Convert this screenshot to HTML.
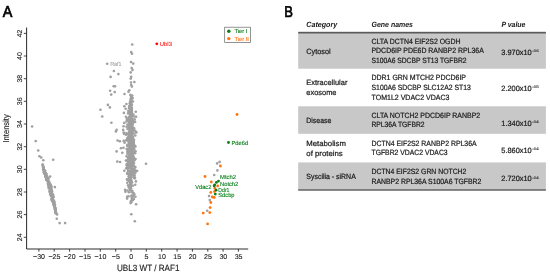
<!DOCTYPE html>
<html><head><meta charset="utf-8"><title>Figure</title>
<style>
html,body{margin:0;padding:0;background:#fff}
svg{display:block;font-family:"Liberation Sans",sans-serif;text-rendering:geometricPrecision}
</style></head><body>
<svg width="550" height="275" viewBox="0 0 550 275">
<defs><filter id="soft" x="0" y="0" width="550" height="275" filterUnits="userSpaceOnUse"><feGaussianBlur stdDeviation="0.32"/></filter></defs>
<rect width="550" height="275" fill="#fff"/>
<g filter="url(#soft)">
<g id="points">
<circle cx="132.2" cy="44.5" r="1.32" fill="#a0a0a0"/>
<circle cx="131.2" cy="52.1" r="1.32" fill="#a0a0a0"/>
<circle cx="132.0" cy="53.8" r="1.32" fill="#a0a0a0"/>
<circle cx="131.0" cy="62.0" r="1.32" fill="#a0a0a0"/>
<circle cx="133.2" cy="63.6" r="1.32" fill="#a0a0a0"/>
<circle cx="107.2" cy="63.8" r="1.32" fill="#a0a0a0"/>
<circle cx="131.7" cy="68.0" r="1.32" fill="#a0a0a0"/>
<circle cx="132.5" cy="69.9" r="1.32" fill="#a0a0a0"/>
<circle cx="130.7" cy="72.4" r="1.32" fill="#a0a0a0"/>
<circle cx="113.9" cy="71.0" r="1.32" fill="#a0a0a0"/>
<circle cx="118.4" cy="74.1" r="1.32" fill="#a0a0a0"/>
<circle cx="110.6" cy="76.9" r="1.32" fill="#a0a0a0"/>
<circle cx="131.2" cy="76.7" r="1.32" fill="#a0a0a0"/>
<circle cx="130.7" cy="78.6" r="1.32" fill="#a0a0a0"/>
<circle cx="134.4" cy="82.0" r="1.32" fill="#a0a0a0"/>
<circle cx="131.0" cy="82.5" r="1.32" fill="#a0a0a0"/>
<circle cx="131.2" cy="85.0" r="1.32" fill="#a0a0a0"/>
<circle cx="131.9" cy="86.6" r="1.32" fill="#a0a0a0"/>
<circle cx="113.7" cy="86.2" r="1.32" fill="#a0a0a0"/>
<circle cx="115.0" cy="86.3" r="1.32" fill="#a0a0a0"/>
<circle cx="110.1" cy="90.8" r="1.32" fill="#a0a0a0"/>
<circle cx="114.7" cy="92.1" r="1.32" fill="#a0a0a0"/>
<circle cx="111.2" cy="94.6" r="1.32" fill="#a0a0a0"/>
<circle cx="124.5" cy="94.0" r="1.32" fill="#a0a0a0"/>
<circle cx="129.3" cy="90.3" r="1.32" fill="#a0a0a0"/>
<circle cx="128.5" cy="91.7" r="1.32" fill="#a0a0a0"/>
<circle cx="130.4" cy="94.9" r="1.32" fill="#a0a0a0"/>
<circle cx="132.2" cy="95.6" r="1.32" fill="#a0a0a0"/>
<circle cx="132.5" cy="98.1" r="1.32" fill="#a0a0a0"/>
<circle cx="107.9" cy="104.9" r="1.32" fill="#a0a0a0"/>
<circle cx="109.9" cy="107.4" r="1.32" fill="#a0a0a0"/>
<circle cx="100.5" cy="109.8" r="1.32" fill="#a0a0a0"/>
<circle cx="102.2" cy="116.5" r="1.32" fill="#a0a0a0"/>
<circle cx="111.4" cy="122.8" r="1.32" fill="#a0a0a0"/>
<circle cx="116.6" cy="129.9" r="1.32" fill="#a0a0a0"/>
<circle cx="115.9" cy="131.4" r="1.32" fill="#a0a0a0"/>
<circle cx="126.4" cy="104.0" r="1.32" fill="#a0a0a0"/>
<circle cx="124.3" cy="106.3" r="1.32" fill="#a0a0a0"/>
<circle cx="125.6" cy="108.8" r="1.32" fill="#a0a0a0"/>
<circle cx="123.9" cy="112.9" r="1.32" fill="#a0a0a0"/>
<circle cx="125.9" cy="116.8" r="1.32" fill="#a0a0a0"/>
<circle cx="135.8" cy="111.7" r="1.32" fill="#a0a0a0"/>
<circle cx="136.1" cy="116.8" r="1.32" fill="#a0a0a0"/>
<circle cx="132.2" cy="97.9" r="1.32" fill="#a0a0a0"/>
<circle cx="132.9" cy="101.5" r="1.32" fill="#a0a0a0"/>
<circle cx="131.5" cy="105.2" r="1.32" fill="#a0a0a0"/>
<circle cx="124.3" cy="122.9" r="1.32" fill="#a0a0a0"/>
<circle cx="123.5" cy="126.3" r="1.32" fill="#a0a0a0"/>
<circle cx="123.2" cy="129.9" r="1.32" fill="#a0a0a0"/>
<circle cx="135.1" cy="121.9" r="1.32" fill="#a0a0a0"/>
<circle cx="135.8" cy="132.5" r="1.32" fill="#a0a0a0"/>
<circle cx="117.6" cy="140.5" r="1.32" fill="#a0a0a0"/>
<circle cx="119.8" cy="141.3" r="1.32" fill="#a0a0a0"/>
<circle cx="123.7" cy="140.9" r="1.32" fill="#a0a0a0"/>
<circle cx="124.6" cy="142.8" r="1.32" fill="#a0a0a0"/>
<circle cx="121.0" cy="148.2" r="1.32" fill="#a0a0a0"/>
<circle cx="123.5" cy="147.7" r="1.32" fill="#a0a0a0"/>
<circle cx="116.6" cy="151.4" r="1.32" fill="#a0a0a0"/>
<circle cx="122.3" cy="152.8" r="1.32" fill="#a0a0a0"/>
<circle cx="117.3" cy="161.6" r="1.32" fill="#a0a0a0"/>
<circle cx="120.1" cy="162.0" r="1.32" fill="#a0a0a0"/>
<circle cx="146.0" cy="163.7" r="1.32" fill="#a0a0a0"/>
<circle cx="123.7" cy="132.6" r="1.32" fill="#a0a0a0"/>
<circle cx="124.1" cy="134.0" r="1.32" fill="#a0a0a0"/>
<circle cx="136.3" cy="132.2" r="1.32" fill="#a0a0a0"/>
<circle cx="127.1" cy="196.7" r="1.32" fill="#a0a0a0"/>
<circle cx="128.5" cy="196.2" r="1.32" fill="#a0a0a0"/>
<circle cx="131.5" cy="195.7" r="1.32" fill="#a0a0a0"/>
<circle cx="135.4" cy="196.7" r="1.32" fill="#a0a0a0"/>
<circle cx="127.1" cy="198.6" r="1.32" fill="#a0a0a0"/>
<circle cx="132.9" cy="200.1" r="1.32" fill="#a0a0a0"/>
<circle cx="131.5" cy="202.0" r="1.32" fill="#a0a0a0"/>
<circle cx="136.1" cy="204.2" r="1.32" fill="#a0a0a0"/>
<circle cx="131.3" cy="214.2" r="1.32" fill="#a0a0a0"/>
<circle cx="134.8" cy="221.2" r="1.32" fill="#a0a0a0"/>
<circle cx="32.1" cy="126.5" r="1.32" fill="#a0a0a0"/>
<circle cx="35.7" cy="141.1" r="1.32" fill="#a0a0a0"/>
<circle cx="38.2" cy="150.5" r="1.32" fill="#a0a0a0"/>
<circle cx="39.4" cy="156.2" r="1.32" fill="#a0a0a0"/>
<circle cx="41.2" cy="157.5" r="1.32" fill="#a0a0a0"/>
<circle cx="43.3" cy="160.2" r="1.32" fill="#a0a0a0"/>
<circle cx="53.2" cy="159.7" r="1.32" fill="#a0a0a0"/>
<circle cx="50.1" cy="176.6" r="1.32" fill="#a0a0a0"/>
<circle cx="54.9" cy="187.1" r="1.32" fill="#a0a0a0"/>
<circle cx="57.1" cy="214.5" r="1.32" fill="#a0a0a0"/>
<circle cx="56.8" cy="218.7" r="1.32" fill="#a0a0a0"/>
<circle cx="59.6" cy="223.1" r="1.32" fill="#a0a0a0"/>
<circle cx="65.1" cy="223.1" r="1.32" fill="#a0a0a0"/>
<circle cx="217.1" cy="163.4" r="1.32" fill="#a0a0a0"/>
<circle cx="219.6" cy="161.9" r="1.32" fill="#a0a0a0"/>
<circle cx="217.4" cy="170.4" r="1.32" fill="#a0a0a0"/>
<circle cx="214.2" cy="175.0" r="1.32" fill="#a0a0a0"/>
<circle cx="209.1" cy="196.0" r="1.32" fill="#a0a0a0"/>
<circle cx="209.8" cy="200.1" r="1.32" fill="#a0a0a0"/>
<circle cx="207.2" cy="210.8" r="1.32" fill="#a0a0a0"/>
<circle cx="131.1" cy="97.1" r="1.32" fill="#a0a0a0"/>
<circle cx="131.3" cy="97.5" r="1.32" fill="#a0a0a0"/>
<circle cx="131.3" cy="98.0" r="1.32" fill="#a0a0a0"/>
<circle cx="130.9" cy="98.4" r="1.32" fill="#a0a0a0"/>
<circle cx="131.2" cy="99.8" r="1.32" fill="#a0a0a0"/>
<circle cx="131.0" cy="99.1" r="1.32" fill="#a0a0a0"/>
<circle cx="130.8" cy="99.9" r="1.32" fill="#a0a0a0"/>
<circle cx="131.6" cy="100.4" r="1.32" fill="#a0a0a0"/>
<circle cx="130.9" cy="100.9" r="1.32" fill="#a0a0a0"/>
<circle cx="130.7" cy="101.1" r="1.32" fill="#a0a0a0"/>
<circle cx="131.1" cy="101.8" r="1.32" fill="#a0a0a0"/>
<circle cx="131.1" cy="101.2" r="1.32" fill="#a0a0a0"/>
<circle cx="130.2" cy="102.5" r="1.32" fill="#a0a0a0"/>
<circle cx="130.1" cy="102.1" r="1.32" fill="#a0a0a0"/>
<circle cx="131.2" cy="102.7" r="1.32" fill="#a0a0a0"/>
<circle cx="130.9" cy="103.3" r="1.32" fill="#a0a0a0"/>
<circle cx="129.9" cy="103.3" r="1.32" fill="#a0a0a0"/>
<circle cx="130.2" cy="103.8" r="1.32" fill="#a0a0a0"/>
<circle cx="130.7" cy="104.5" r="1.32" fill="#a0a0a0"/>
<circle cx="131.8" cy="104.9" r="1.32" fill="#a0a0a0"/>
<circle cx="130.6" cy="105.0" r="1.32" fill="#a0a0a0"/>
<circle cx="130.0" cy="105.4" r="1.32" fill="#a0a0a0"/>
<circle cx="130.7" cy="105.5" r="1.32" fill="#a0a0a0"/>
<circle cx="130.2" cy="105.0" r="1.32" fill="#a0a0a0"/>
<circle cx="129.9" cy="105.6" r="1.32" fill="#a0a0a0"/>
<circle cx="129.3" cy="106.3" r="1.32" fill="#a0a0a0"/>
<circle cx="130.3" cy="106.6" r="1.32" fill="#a0a0a0"/>
<circle cx="129.5" cy="106.5" r="1.32" fill="#a0a0a0"/>
<circle cx="131.8" cy="107.7" r="1.32" fill="#a0a0a0"/>
<circle cx="130.3" cy="107.1" r="1.32" fill="#a0a0a0"/>
<circle cx="130.3" cy="108.0" r="1.32" fill="#a0a0a0"/>
<circle cx="129.2" cy="108.3" r="1.32" fill="#a0a0a0"/>
<circle cx="129.5" cy="108.0" r="1.32" fill="#a0a0a0"/>
<circle cx="131.8" cy="108.5" r="1.32" fill="#a0a0a0"/>
<circle cx="131.0" cy="109.8" r="1.32" fill="#a0a0a0"/>
<circle cx="131.0" cy="109.1" r="1.32" fill="#a0a0a0"/>
<circle cx="130.7" cy="109.9" r="1.32" fill="#a0a0a0"/>
<circle cx="131.8" cy="109.1" r="1.32" fill="#a0a0a0"/>
<circle cx="128.3" cy="110.8" r="1.32" fill="#a0a0a0"/>
<circle cx="129.9" cy="110.9" r="1.32" fill="#a0a0a0"/>
<circle cx="130.5" cy="110.4" r="1.32" fill="#a0a0a0"/>
<circle cx="131.9" cy="110.9" r="1.32" fill="#a0a0a0"/>
<circle cx="131.2" cy="111.2" r="1.32" fill="#a0a0a0"/>
<circle cx="131.3" cy="111.2" r="1.32" fill="#a0a0a0"/>
<circle cx="129.1" cy="111.3" r="1.32" fill="#a0a0a0"/>
<circle cx="130.9" cy="111.0" r="1.32" fill="#a0a0a0"/>
<circle cx="129.6" cy="113.0" r="1.32" fill="#a0a0a0"/>
<circle cx="131.9" cy="112.7" r="1.32" fill="#a0a0a0"/>
<circle cx="128.9" cy="112.7" r="1.32" fill="#a0a0a0"/>
<circle cx="130.5" cy="112.1" r="1.32" fill="#a0a0a0"/>
<circle cx="131.2" cy="113.8" r="1.32" fill="#a0a0a0"/>
<circle cx="128.1" cy="113.4" r="1.32" fill="#a0a0a0"/>
<circle cx="130.2" cy="113.6" r="1.32" fill="#a0a0a0"/>
<circle cx="131.1" cy="113.1" r="1.32" fill="#a0a0a0"/>
<circle cx="130.9" cy="114.3" r="1.32" fill="#a0a0a0"/>
<circle cx="131.5" cy="114.1" r="1.32" fill="#a0a0a0"/>
<circle cx="131.5" cy="114.1" r="1.32" fill="#a0a0a0"/>
<circle cx="130.7" cy="114.4" r="1.32" fill="#a0a0a0"/>
<circle cx="133.4" cy="114.6" r="1.32" fill="#a0a0a0"/>
<circle cx="131.2" cy="115.3" r="1.32" fill="#a0a0a0"/>
<circle cx="129.9" cy="115.1" r="1.32" fill="#a0a0a0"/>
<circle cx="131.8" cy="115.8" r="1.32" fill="#a0a0a0"/>
<circle cx="132.3" cy="115.5" r="1.32" fill="#a0a0a0"/>
<circle cx="130.6" cy="115.1" r="1.32" fill="#a0a0a0"/>
<circle cx="130.1" cy="116.8" r="1.32" fill="#a0a0a0"/>
<circle cx="131.6" cy="116.2" r="1.32" fill="#a0a0a0"/>
<circle cx="134.2" cy="116.5" r="1.32" fill="#a0a0a0"/>
<circle cx="131.2" cy="116.1" r="1.32" fill="#a0a0a0"/>
<circle cx="130.4" cy="116.5" r="1.32" fill="#a0a0a0"/>
<circle cx="130.6" cy="117.9" r="1.32" fill="#a0a0a0"/>
<circle cx="130.3" cy="117.4" r="1.32" fill="#a0a0a0"/>
<circle cx="129.6" cy="117.2" r="1.32" fill="#a0a0a0"/>
<circle cx="131.0" cy="117.8" r="1.32" fill="#a0a0a0"/>
<circle cx="128.9" cy="117.3" r="1.32" fill="#a0a0a0"/>
<circle cx="132.4" cy="118.9" r="1.32" fill="#a0a0a0"/>
<circle cx="126.9" cy="118.8" r="1.32" fill="#a0a0a0"/>
<circle cx="131.7" cy="118.2" r="1.32" fill="#a0a0a0"/>
<circle cx="128.4" cy="118.5" r="1.32" fill="#a0a0a0"/>
<circle cx="130.5" cy="118.0" r="1.32" fill="#a0a0a0"/>
<circle cx="131.0" cy="119.3" r="1.32" fill="#a0a0a0"/>
<circle cx="129.3" cy="119.4" r="1.32" fill="#a0a0a0"/>
<circle cx="127.0" cy="119.9" r="1.32" fill="#a0a0a0"/>
<circle cx="134.6" cy="119.4" r="1.32" fill="#a0a0a0"/>
<circle cx="130.4" cy="119.2" r="1.32" fill="#a0a0a0"/>
<circle cx="130.8" cy="119.2" r="1.32" fill="#a0a0a0"/>
<circle cx="131.7" cy="120.9" r="1.32" fill="#a0a0a0"/>
<circle cx="131.7" cy="120.7" r="1.32" fill="#a0a0a0"/>
<circle cx="129.2" cy="120.8" r="1.32" fill="#a0a0a0"/>
<circle cx="132.7" cy="120.9" r="1.32" fill="#a0a0a0"/>
<circle cx="131.9" cy="120.8" r="1.32" fill="#a0a0a0"/>
<circle cx="129.7" cy="121.8" r="1.32" fill="#a0a0a0"/>
<circle cx="130.8" cy="121.3" r="1.32" fill="#a0a0a0"/>
<circle cx="132.1" cy="121.4" r="1.32" fill="#a0a0a0"/>
<circle cx="126.6" cy="121.4" r="1.32" fill="#a0a0a0"/>
<circle cx="133.2" cy="121.2" r="1.32" fill="#a0a0a0"/>
<circle cx="129.8" cy="122.2" r="1.32" fill="#a0a0a0"/>
<circle cx="133.2" cy="122.1" r="1.32" fill="#a0a0a0"/>
<circle cx="129.0" cy="122.8" r="1.32" fill="#a0a0a0"/>
<circle cx="133.1" cy="122.4" r="1.32" fill="#a0a0a0"/>
<circle cx="130.4" cy="122.5" r="1.32" fill="#a0a0a0"/>
<circle cx="130.9" cy="123.0" r="1.32" fill="#a0a0a0"/>
<circle cx="130.9" cy="123.5" r="1.32" fill="#a0a0a0"/>
<circle cx="132.3" cy="123.9" r="1.32" fill="#a0a0a0"/>
<circle cx="130.0" cy="123.8" r="1.32" fill="#a0a0a0"/>
<circle cx="131.0" cy="123.3" r="1.32" fill="#a0a0a0"/>
<circle cx="131.9" cy="123.2" r="1.32" fill="#a0a0a0"/>
<circle cx="129.6" cy="123.4" r="1.32" fill="#a0a0a0"/>
<circle cx="130.0" cy="124.9" r="1.32" fill="#a0a0a0"/>
<circle cx="129.6" cy="124.6" r="1.32" fill="#a0a0a0"/>
<circle cx="132.2" cy="124.9" r="1.32" fill="#a0a0a0"/>
<circle cx="127.4" cy="124.5" r="1.32" fill="#a0a0a0"/>
<circle cx="132.5" cy="124.5" r="1.32" fill="#a0a0a0"/>
<circle cx="130.4" cy="124.4" r="1.32" fill="#a0a0a0"/>
<circle cx="130.7" cy="125.0" r="1.32" fill="#a0a0a0"/>
<circle cx="131.0" cy="125.5" r="1.32" fill="#a0a0a0"/>
<circle cx="129.7" cy="125.7" r="1.32" fill="#a0a0a0"/>
<circle cx="129.3" cy="125.5" r="1.32" fill="#a0a0a0"/>
<circle cx="130.2" cy="125.6" r="1.32" fill="#a0a0a0"/>
<circle cx="130.9" cy="125.6" r="1.32" fill="#a0a0a0"/>
<circle cx="129.9" cy="125.2" r="1.32" fill="#a0a0a0"/>
<circle cx="131.0" cy="126.6" r="1.32" fill="#a0a0a0"/>
<circle cx="128.7" cy="126.8" r="1.32" fill="#a0a0a0"/>
<circle cx="132.3" cy="126.6" r="1.32" fill="#a0a0a0"/>
<circle cx="129.7" cy="126.5" r="1.32" fill="#a0a0a0"/>
<circle cx="128.1" cy="126.5" r="1.32" fill="#a0a0a0"/>
<circle cx="130.5" cy="126.5" r="1.32" fill="#a0a0a0"/>
<circle cx="126.6" cy="126.7" r="1.32" fill="#a0a0a0"/>
<circle cx="131.3" cy="127.9" r="1.32" fill="#a0a0a0"/>
<circle cx="130.6" cy="127.9" r="1.32" fill="#a0a0a0"/>
<circle cx="132.9" cy="127.8" r="1.32" fill="#a0a0a0"/>
<circle cx="131.3" cy="127.4" r="1.32" fill="#a0a0a0"/>
<circle cx="131.4" cy="127.1" r="1.32" fill="#a0a0a0"/>
<circle cx="130.7" cy="127.7" r="1.32" fill="#a0a0a0"/>
<circle cx="131.4" cy="128.9" r="1.32" fill="#a0a0a0"/>
<circle cx="132.3" cy="128.7" r="1.32" fill="#a0a0a0"/>
<circle cx="133.0" cy="128.1" r="1.32" fill="#a0a0a0"/>
<circle cx="134.1" cy="128.2" r="1.32" fill="#a0a0a0"/>
<circle cx="127.6" cy="129.0" r="1.32" fill="#a0a0a0"/>
<circle cx="129.1" cy="129.0" r="1.32" fill="#a0a0a0"/>
<circle cx="131.9" cy="129.2" r="1.32" fill="#a0a0a0"/>
<circle cx="128.8" cy="129.3" r="1.32" fill="#a0a0a0"/>
<circle cx="131.6" cy="129.2" r="1.32" fill="#a0a0a0"/>
<circle cx="129.5" cy="129.0" r="1.32" fill="#a0a0a0"/>
<circle cx="133.3" cy="129.6" r="1.32" fill="#a0a0a0"/>
<circle cx="130.4" cy="129.3" r="1.32" fill="#a0a0a0"/>
<circle cx="130.8" cy="129.6" r="1.32" fill="#a0a0a0"/>
<circle cx="135.2" cy="130.8" r="1.32" fill="#a0a0a0"/>
<circle cx="132.8" cy="131.0" r="1.32" fill="#a0a0a0"/>
<circle cx="131.8" cy="130.0" r="1.32" fill="#a0a0a0"/>
<circle cx="131.6" cy="130.8" r="1.32" fill="#a0a0a0"/>
<circle cx="130.6" cy="130.4" r="1.32" fill="#a0a0a0"/>
<circle cx="131.6" cy="130.9" r="1.32" fill="#a0a0a0"/>
<circle cx="131.3" cy="130.1" r="1.32" fill="#a0a0a0"/>
<circle cx="129.4" cy="131.6" r="1.32" fill="#a0a0a0"/>
<circle cx="130.5" cy="131.1" r="1.32" fill="#a0a0a0"/>
<circle cx="130.0" cy="131.7" r="1.32" fill="#a0a0a0"/>
<circle cx="130.1" cy="131.9" r="1.32" fill="#a0a0a0"/>
<circle cx="131.0" cy="131.6" r="1.32" fill="#a0a0a0"/>
<circle cx="130.9" cy="131.9" r="1.32" fill="#a0a0a0"/>
<circle cx="130.0" cy="131.1" r="1.32" fill="#a0a0a0"/>
<circle cx="129.1" cy="132.6" r="1.32" fill="#a0a0a0"/>
<circle cx="131.2" cy="132.9" r="1.32" fill="#a0a0a0"/>
<circle cx="130.6" cy="132.5" r="1.32" fill="#a0a0a0"/>
<circle cx="131.6" cy="132.2" r="1.32" fill="#a0a0a0"/>
<circle cx="131.5" cy="132.1" r="1.32" fill="#a0a0a0"/>
<circle cx="131.4" cy="132.2" r="1.32" fill="#a0a0a0"/>
<circle cx="130.1" cy="132.8" r="1.32" fill="#a0a0a0"/>
<circle cx="132.1" cy="133.5" r="1.32" fill="#a0a0a0"/>
<circle cx="131.4" cy="133.0" r="1.32" fill="#a0a0a0"/>
<circle cx="132.2" cy="133.3" r="1.32" fill="#a0a0a0"/>
<circle cx="133.6" cy="133.6" r="1.32" fill="#a0a0a0"/>
<circle cx="131.0" cy="133.2" r="1.32" fill="#a0a0a0"/>
<circle cx="126.5" cy="133.1" r="1.32" fill="#a0a0a0"/>
<circle cx="131.4" cy="133.8" r="1.32" fill="#a0a0a0"/>
<circle cx="128.8" cy="133.8" r="1.32" fill="#a0a0a0"/>
<circle cx="131.6" cy="134.5" r="1.32" fill="#a0a0a0"/>
<circle cx="128.7" cy="134.3" r="1.32" fill="#a0a0a0"/>
<circle cx="126.1" cy="134.8" r="1.32" fill="#a0a0a0"/>
<circle cx="130.0" cy="134.4" r="1.32" fill="#a0a0a0"/>
<circle cx="128.2" cy="134.3" r="1.32" fill="#a0a0a0"/>
<circle cx="131.6" cy="134.1" r="1.32" fill="#a0a0a0"/>
<circle cx="131.0" cy="134.7" r="1.32" fill="#a0a0a0"/>
<circle cx="130.7" cy="134.1" r="1.32" fill="#a0a0a0"/>
<circle cx="131.8" cy="135.9" r="1.32" fill="#a0a0a0"/>
<circle cx="130.0" cy="135.2" r="1.32" fill="#a0a0a0"/>
<circle cx="129.4" cy="135.3" r="1.32" fill="#a0a0a0"/>
<circle cx="129.7" cy="135.4" r="1.32" fill="#a0a0a0"/>
<circle cx="131.0" cy="135.3" r="1.32" fill="#a0a0a0"/>
<circle cx="135.3" cy="135.5" r="1.32" fill="#a0a0a0"/>
<circle cx="129.5" cy="135.2" r="1.32" fill="#a0a0a0"/>
<circle cx="130.1" cy="136.0" r="1.32" fill="#a0a0a0"/>
<circle cx="132.3" cy="136.4" r="1.32" fill="#a0a0a0"/>
<circle cx="128.6" cy="136.2" r="1.32" fill="#a0a0a0"/>
<circle cx="131.0" cy="136.5" r="1.32" fill="#a0a0a0"/>
<circle cx="132.1" cy="136.1" r="1.32" fill="#a0a0a0"/>
<circle cx="130.7" cy="136.4" r="1.32" fill="#a0a0a0"/>
<circle cx="131.1" cy="136.3" r="1.32" fill="#a0a0a0"/>
<circle cx="130.8" cy="137.6" r="1.32" fill="#a0a0a0"/>
<circle cx="127.7" cy="137.7" r="1.32" fill="#a0a0a0"/>
<circle cx="130.1" cy="137.7" r="1.32" fill="#a0a0a0"/>
<circle cx="132.0" cy="137.3" r="1.32" fill="#a0a0a0"/>
<circle cx="129.4" cy="138.0" r="1.32" fill="#a0a0a0"/>
<circle cx="132.4" cy="137.6" r="1.32" fill="#a0a0a0"/>
<circle cx="133.1" cy="137.0" r="1.32" fill="#a0a0a0"/>
<circle cx="132.7" cy="137.6" r="1.32" fill="#a0a0a0"/>
<circle cx="127.4" cy="138.8" r="1.32" fill="#a0a0a0"/>
<circle cx="132.1" cy="138.5" r="1.32" fill="#a0a0a0"/>
<circle cx="132.4" cy="138.8" r="1.32" fill="#a0a0a0"/>
<circle cx="131.9" cy="138.6" r="1.32" fill="#a0a0a0"/>
<circle cx="127.5" cy="138.9" r="1.32" fill="#a0a0a0"/>
<circle cx="129.5" cy="138.2" r="1.32" fill="#a0a0a0"/>
<circle cx="128.1" cy="138.0" r="1.32" fill="#a0a0a0"/>
<circle cx="131.9" cy="138.1" r="1.32" fill="#a0a0a0"/>
<circle cx="132.0" cy="139.6" r="1.32" fill="#a0a0a0"/>
<circle cx="128.9" cy="139.7" r="1.32" fill="#a0a0a0"/>
<circle cx="128.8" cy="139.5" r="1.32" fill="#a0a0a0"/>
<circle cx="134.0" cy="139.7" r="1.32" fill="#a0a0a0"/>
<circle cx="130.8" cy="139.5" r="1.32" fill="#a0a0a0"/>
<circle cx="128.1" cy="139.1" r="1.32" fill="#a0a0a0"/>
<circle cx="130.1" cy="139.7" r="1.32" fill="#a0a0a0"/>
<circle cx="130.7" cy="139.3" r="1.32" fill="#a0a0a0"/>
<circle cx="131.4" cy="140.2" r="1.32" fill="#a0a0a0"/>
<circle cx="130.4" cy="140.5" r="1.32" fill="#a0a0a0"/>
<circle cx="126.1" cy="140.4" r="1.32" fill="#a0a0a0"/>
<circle cx="127.9" cy="140.8" r="1.32" fill="#a0a0a0"/>
<circle cx="131.1" cy="140.6" r="1.32" fill="#a0a0a0"/>
<circle cx="130.2" cy="140.1" r="1.32" fill="#a0a0a0"/>
<circle cx="130.1" cy="140.3" r="1.32" fill="#a0a0a0"/>
<circle cx="130.6" cy="140.6" r="1.32" fill="#a0a0a0"/>
<circle cx="129.1" cy="141.1" r="1.32" fill="#a0a0a0"/>
<circle cx="130.4" cy="141.7" r="1.32" fill="#a0a0a0"/>
<circle cx="133.5" cy="141.7" r="1.32" fill="#a0a0a0"/>
<circle cx="130.1" cy="141.5" r="1.32" fill="#a0a0a0"/>
<circle cx="132.9" cy="141.5" r="1.32" fill="#a0a0a0"/>
<circle cx="133.6" cy="141.2" r="1.32" fill="#a0a0a0"/>
<circle cx="133.4" cy="142.0" r="1.32" fill="#a0a0a0"/>
<circle cx="131.0" cy="141.5" r="1.32" fill="#a0a0a0"/>
<circle cx="130.6" cy="141.8" r="1.32" fill="#a0a0a0"/>
<circle cx="129.3" cy="142.2" r="1.32" fill="#a0a0a0"/>
<circle cx="131.2" cy="142.9" r="1.32" fill="#a0a0a0"/>
<circle cx="131.3" cy="142.1" r="1.32" fill="#a0a0a0"/>
<circle cx="133.1" cy="142.5" r="1.32" fill="#a0a0a0"/>
<circle cx="131.6" cy="142.8" r="1.32" fill="#a0a0a0"/>
<circle cx="130.4" cy="142.5" r="1.32" fill="#a0a0a0"/>
<circle cx="132.9" cy="142.2" r="1.32" fill="#a0a0a0"/>
<circle cx="128.8" cy="142.9" r="1.32" fill="#a0a0a0"/>
<circle cx="130.9" cy="143.5" r="1.32" fill="#a0a0a0"/>
<circle cx="130.7" cy="143.5" r="1.32" fill="#a0a0a0"/>
<circle cx="130.4" cy="143.3" r="1.32" fill="#a0a0a0"/>
<circle cx="131.7" cy="143.3" r="1.32" fill="#a0a0a0"/>
<circle cx="130.8" cy="143.8" r="1.32" fill="#a0a0a0"/>
<circle cx="130.6" cy="143.8" r="1.32" fill="#a0a0a0"/>
<circle cx="133.8" cy="143.7" r="1.32" fill="#a0a0a0"/>
<circle cx="133.6" cy="143.9" r="1.32" fill="#a0a0a0"/>
<circle cx="130.3" cy="143.4" r="1.32" fill="#a0a0a0"/>
<circle cx="132.4" cy="144.6" r="1.32" fill="#a0a0a0"/>
<circle cx="129.4" cy="144.3" r="1.32" fill="#a0a0a0"/>
<circle cx="132.2" cy="144.0" r="1.32" fill="#a0a0a0"/>
<circle cx="133.5" cy="144.3" r="1.32" fill="#a0a0a0"/>
<circle cx="132.8" cy="144.9" r="1.32" fill="#a0a0a0"/>
<circle cx="130.7" cy="144.5" r="1.32" fill="#a0a0a0"/>
<circle cx="132.2" cy="144.2" r="1.32" fill="#a0a0a0"/>
<circle cx="127.4" cy="144.9" r="1.32" fill="#a0a0a0"/>
<circle cx="134.1" cy="145.6" r="1.32" fill="#a0a0a0"/>
<circle cx="134.5" cy="145.5" r="1.32" fill="#a0a0a0"/>
<circle cx="128.4" cy="145.7" r="1.32" fill="#a0a0a0"/>
<circle cx="133.6" cy="145.5" r="1.32" fill="#a0a0a0"/>
<circle cx="131.6" cy="145.8" r="1.32" fill="#a0a0a0"/>
<circle cx="129.8" cy="145.0" r="1.32" fill="#a0a0a0"/>
<circle cx="129.5" cy="145.9" r="1.32" fill="#a0a0a0"/>
<circle cx="132.2" cy="145.3" r="1.32" fill="#a0a0a0"/>
<circle cx="132.2" cy="146.7" r="1.32" fill="#a0a0a0"/>
<circle cx="132.1" cy="146.7" r="1.32" fill="#a0a0a0"/>
<circle cx="130.5" cy="146.3" r="1.32" fill="#a0a0a0"/>
<circle cx="128.9" cy="146.2" r="1.32" fill="#a0a0a0"/>
<circle cx="130.0" cy="146.2" r="1.32" fill="#a0a0a0"/>
<circle cx="131.8" cy="146.5" r="1.32" fill="#a0a0a0"/>
<circle cx="134.6" cy="146.2" r="1.32" fill="#a0a0a0"/>
<circle cx="135.4" cy="146.4" r="1.32" fill="#a0a0a0"/>
<circle cx="127.2" cy="146.1" r="1.32" fill="#a0a0a0"/>
<circle cx="132.2" cy="147.1" r="1.32" fill="#a0a0a0"/>
<circle cx="131.6" cy="147.2" r="1.32" fill="#a0a0a0"/>
<circle cx="130.6" cy="147.9" r="1.32" fill="#a0a0a0"/>
<circle cx="133.1" cy="147.7" r="1.32" fill="#a0a0a0"/>
<circle cx="129.0" cy="147.5" r="1.32" fill="#a0a0a0"/>
<circle cx="131.7" cy="147.4" r="1.32" fill="#a0a0a0"/>
<circle cx="130.3" cy="147.3" r="1.32" fill="#a0a0a0"/>
<circle cx="131.3" cy="148.0" r="1.32" fill="#a0a0a0"/>
<circle cx="132.3" cy="147.6" r="1.32" fill="#a0a0a0"/>
<circle cx="132.3" cy="148.2" r="1.32" fill="#a0a0a0"/>
<circle cx="130.5" cy="148.4" r="1.32" fill="#a0a0a0"/>
<circle cx="132.1" cy="148.4" r="1.32" fill="#a0a0a0"/>
<circle cx="134.2" cy="148.9" r="1.32" fill="#a0a0a0"/>
<circle cx="129.7" cy="148.0" r="1.32" fill="#a0a0a0"/>
<circle cx="133.6" cy="148.9" r="1.32" fill="#a0a0a0"/>
<circle cx="131.3" cy="148.5" r="1.32" fill="#a0a0a0"/>
<circle cx="130.7" cy="148.4" r="1.32" fill="#a0a0a0"/>
<circle cx="130.7" cy="149.8" r="1.32" fill="#a0a0a0"/>
<circle cx="133.8" cy="149.2" r="1.32" fill="#a0a0a0"/>
<circle cx="126.7" cy="149.1" r="1.32" fill="#a0a0a0"/>
<circle cx="132.0" cy="149.7" r="1.32" fill="#a0a0a0"/>
<circle cx="132.6" cy="149.9" r="1.32" fill="#a0a0a0"/>
<circle cx="130.2" cy="149.8" r="1.32" fill="#a0a0a0"/>
<circle cx="128.0" cy="149.5" r="1.32" fill="#a0a0a0"/>
<circle cx="130.2" cy="149.8" r="1.32" fill="#a0a0a0"/>
<circle cx="130.5" cy="150.9" r="1.32" fill="#a0a0a0"/>
<circle cx="129.7" cy="150.1" r="1.32" fill="#a0a0a0"/>
<circle cx="129.4" cy="150.3" r="1.32" fill="#a0a0a0"/>
<circle cx="128.8" cy="150.1" r="1.32" fill="#a0a0a0"/>
<circle cx="128.5" cy="150.1" r="1.32" fill="#a0a0a0"/>
<circle cx="128.2" cy="150.4" r="1.32" fill="#a0a0a0"/>
<circle cx="130.3" cy="150.2" r="1.32" fill="#a0a0a0"/>
<circle cx="130.5" cy="150.3" r="1.32" fill="#a0a0a0"/>
<circle cx="130.5" cy="150.5" r="1.32" fill="#a0a0a0"/>
<circle cx="128.3" cy="151.5" r="1.32" fill="#a0a0a0"/>
<circle cx="127.6" cy="151.2" r="1.32" fill="#a0a0a0"/>
<circle cx="130.8" cy="151.7" r="1.32" fill="#a0a0a0"/>
<circle cx="135.5" cy="151.3" r="1.32" fill="#a0a0a0"/>
<circle cx="132.9" cy="151.7" r="1.32" fill="#a0a0a0"/>
<circle cx="131.0" cy="151.4" r="1.32" fill="#a0a0a0"/>
<circle cx="130.6" cy="151.9" r="1.32" fill="#a0a0a0"/>
<circle cx="133.5" cy="151.2" r="1.32" fill="#a0a0a0"/>
<circle cx="129.7" cy="152.7" r="1.32" fill="#a0a0a0"/>
<circle cx="132.4" cy="152.2" r="1.32" fill="#a0a0a0"/>
<circle cx="131.6" cy="152.5" r="1.32" fill="#a0a0a0"/>
<circle cx="127.7" cy="152.2" r="1.32" fill="#a0a0a0"/>
<circle cx="132.3" cy="152.8" r="1.32" fill="#a0a0a0"/>
<circle cx="130.4" cy="152.2" r="1.32" fill="#a0a0a0"/>
<circle cx="131.3" cy="152.3" r="1.32" fill="#a0a0a0"/>
<circle cx="133.9" cy="153.0" r="1.32" fill="#a0a0a0"/>
<circle cx="129.5" cy="152.2" r="1.32" fill="#a0a0a0"/>
<circle cx="130.7" cy="153.7" r="1.32" fill="#a0a0a0"/>
<circle cx="131.7" cy="153.4" r="1.32" fill="#a0a0a0"/>
<circle cx="130.4" cy="153.2" r="1.32" fill="#a0a0a0"/>
<circle cx="131.7" cy="153.1" r="1.32" fill="#a0a0a0"/>
<circle cx="130.5" cy="153.1" r="1.32" fill="#a0a0a0"/>
<circle cx="127.5" cy="153.9" r="1.32" fill="#a0a0a0"/>
<circle cx="133.2" cy="153.7" r="1.32" fill="#a0a0a0"/>
<circle cx="135.1" cy="153.3" r="1.32" fill="#a0a0a0"/>
<circle cx="130.6" cy="153.2" r="1.32" fill="#a0a0a0"/>
<circle cx="130.7" cy="154.7" r="1.32" fill="#a0a0a0"/>
<circle cx="130.2" cy="154.4" r="1.32" fill="#a0a0a0"/>
<circle cx="129.5" cy="154.2" r="1.32" fill="#a0a0a0"/>
<circle cx="131.9" cy="154.0" r="1.32" fill="#a0a0a0"/>
<circle cx="130.4" cy="155.0" r="1.32" fill="#a0a0a0"/>
<circle cx="132.5" cy="154.1" r="1.32" fill="#a0a0a0"/>
<circle cx="132.0" cy="154.4" r="1.32" fill="#a0a0a0"/>
<circle cx="130.4" cy="154.8" r="1.32" fill="#a0a0a0"/>
<circle cx="130.1" cy="155.5" r="1.32" fill="#a0a0a0"/>
<circle cx="131.0" cy="155.4" r="1.32" fill="#a0a0a0"/>
<circle cx="131.8" cy="155.4" r="1.32" fill="#a0a0a0"/>
<circle cx="130.1" cy="155.9" r="1.32" fill="#a0a0a0"/>
<circle cx="132.6" cy="155.8" r="1.32" fill="#a0a0a0"/>
<circle cx="131.1" cy="155.8" r="1.32" fill="#a0a0a0"/>
<circle cx="131.2" cy="155.1" r="1.32" fill="#a0a0a0"/>
<circle cx="130.8" cy="155.9" r="1.32" fill="#a0a0a0"/>
<circle cx="130.6" cy="156.3" r="1.32" fill="#a0a0a0"/>
<circle cx="126.6" cy="156.3" r="1.32" fill="#a0a0a0"/>
<circle cx="133.3" cy="156.3" r="1.32" fill="#a0a0a0"/>
<circle cx="130.0" cy="156.7" r="1.32" fill="#a0a0a0"/>
<circle cx="130.1" cy="156.0" r="1.32" fill="#a0a0a0"/>
<circle cx="132.1" cy="156.8" r="1.32" fill="#a0a0a0"/>
<circle cx="133.1" cy="156.9" r="1.32" fill="#a0a0a0"/>
<circle cx="129.3" cy="156.0" r="1.32" fill="#a0a0a0"/>
<circle cx="130.9" cy="157.0" r="1.32" fill="#a0a0a0"/>
<circle cx="132.9" cy="157.4" r="1.32" fill="#a0a0a0"/>
<circle cx="130.7" cy="157.5" r="1.32" fill="#a0a0a0"/>
<circle cx="132.8" cy="157.9" r="1.32" fill="#a0a0a0"/>
<circle cx="132.1" cy="157.7" r="1.32" fill="#a0a0a0"/>
<circle cx="133.9" cy="157.8" r="1.32" fill="#a0a0a0"/>
<circle cx="131.1" cy="157.3" r="1.32" fill="#a0a0a0"/>
<circle cx="128.1" cy="157.3" r="1.32" fill="#a0a0a0"/>
<circle cx="128.5" cy="157.1" r="1.32" fill="#a0a0a0"/>
<circle cx="133.3" cy="158.8" r="1.32" fill="#a0a0a0"/>
<circle cx="130.7" cy="158.0" r="1.32" fill="#a0a0a0"/>
<circle cx="131.4" cy="158.6" r="1.32" fill="#a0a0a0"/>
<circle cx="128.2" cy="158.9" r="1.32" fill="#a0a0a0"/>
<circle cx="135.5" cy="159.0" r="1.32" fill="#a0a0a0"/>
<circle cx="130.6" cy="158.1" r="1.32" fill="#a0a0a0"/>
<circle cx="131.5" cy="158.5" r="1.32" fill="#a0a0a0"/>
<circle cx="130.2" cy="158.2" r="1.32" fill="#a0a0a0"/>
<circle cx="128.7" cy="158.4" r="1.32" fill="#a0a0a0"/>
<circle cx="129.2" cy="159.8" r="1.32" fill="#a0a0a0"/>
<circle cx="127.8" cy="159.7" r="1.32" fill="#a0a0a0"/>
<circle cx="133.4" cy="159.3" r="1.32" fill="#a0a0a0"/>
<circle cx="133.3" cy="159.6" r="1.32" fill="#a0a0a0"/>
<circle cx="128.5" cy="159.2" r="1.32" fill="#a0a0a0"/>
<circle cx="133.0" cy="159.2" r="1.32" fill="#a0a0a0"/>
<circle cx="130.7" cy="159.9" r="1.32" fill="#a0a0a0"/>
<circle cx="131.8" cy="159.6" r="1.32" fill="#a0a0a0"/>
<circle cx="125.9" cy="160.5" r="1.32" fill="#a0a0a0"/>
<circle cx="134.4" cy="160.2" r="1.32" fill="#a0a0a0"/>
<circle cx="131.7" cy="161.0" r="1.32" fill="#a0a0a0"/>
<circle cx="128.1" cy="160.1" r="1.32" fill="#a0a0a0"/>
<circle cx="127.1" cy="160.8" r="1.32" fill="#a0a0a0"/>
<circle cx="131.3" cy="160.9" r="1.32" fill="#a0a0a0"/>
<circle cx="132.3" cy="160.1" r="1.32" fill="#a0a0a0"/>
<circle cx="131.1" cy="160.2" r="1.32" fill="#a0a0a0"/>
<circle cx="133.2" cy="160.9" r="1.32" fill="#a0a0a0"/>
<circle cx="130.2" cy="161.9" r="1.32" fill="#a0a0a0"/>
<circle cx="129.2" cy="161.8" r="1.32" fill="#a0a0a0"/>
<circle cx="131.2" cy="161.9" r="1.32" fill="#a0a0a0"/>
<circle cx="132.9" cy="161.6" r="1.32" fill="#a0a0a0"/>
<circle cx="132.4" cy="161.2" r="1.32" fill="#a0a0a0"/>
<circle cx="129.9" cy="161.2" r="1.32" fill="#a0a0a0"/>
<circle cx="131.5" cy="161.3" r="1.32" fill="#a0a0a0"/>
<circle cx="128.3" cy="161.2" r="1.32" fill="#a0a0a0"/>
<circle cx="128.9" cy="162.3" r="1.32" fill="#a0a0a0"/>
<circle cx="130.1" cy="162.3" r="1.32" fill="#a0a0a0"/>
<circle cx="129.5" cy="162.2" r="1.32" fill="#a0a0a0"/>
<circle cx="131.4" cy="162.1" r="1.32" fill="#a0a0a0"/>
<circle cx="128.1" cy="162.1" r="1.32" fill="#a0a0a0"/>
<circle cx="128.6" cy="162.6" r="1.32" fill="#a0a0a0"/>
<circle cx="132.3" cy="162.1" r="1.32" fill="#a0a0a0"/>
<circle cx="132.4" cy="162.4" r="1.32" fill="#a0a0a0"/>
<circle cx="133.6" cy="163.3" r="1.32" fill="#a0a0a0"/>
<circle cx="132.5" cy="163.6" r="1.32" fill="#a0a0a0"/>
<circle cx="130.1" cy="163.4" r="1.32" fill="#a0a0a0"/>
<circle cx="126.9" cy="164.0" r="1.32" fill="#a0a0a0"/>
<circle cx="132.9" cy="163.4" r="1.32" fill="#a0a0a0"/>
<circle cx="131.9" cy="163.2" r="1.32" fill="#a0a0a0"/>
<circle cx="134.0" cy="163.0" r="1.32" fill="#a0a0a0"/>
<circle cx="132.6" cy="163.8" r="1.32" fill="#a0a0a0"/>
<circle cx="129.3" cy="164.9" r="1.32" fill="#a0a0a0"/>
<circle cx="129.4" cy="164.0" r="1.32" fill="#a0a0a0"/>
<circle cx="131.0" cy="164.6" r="1.32" fill="#a0a0a0"/>
<circle cx="127.5" cy="164.1" r="1.32" fill="#a0a0a0"/>
<circle cx="126.8" cy="164.6" r="1.32" fill="#a0a0a0"/>
<circle cx="128.8" cy="164.1" r="1.32" fill="#a0a0a0"/>
<circle cx="132.7" cy="164.3" r="1.32" fill="#a0a0a0"/>
<circle cx="131.7" cy="165.5" r="1.32" fill="#a0a0a0"/>
<circle cx="130.2" cy="165.8" r="1.32" fill="#a0a0a0"/>
<circle cx="132.2" cy="165.1" r="1.32" fill="#a0a0a0"/>
<circle cx="130.4" cy="165.9" r="1.32" fill="#a0a0a0"/>
<circle cx="133.4" cy="165.1" r="1.32" fill="#a0a0a0"/>
<circle cx="130.3" cy="165.9" r="1.32" fill="#a0a0a0"/>
<circle cx="126.8" cy="165.6" r="1.32" fill="#a0a0a0"/>
<circle cx="134.1" cy="166.2" r="1.32" fill="#a0a0a0"/>
<circle cx="131.1" cy="166.4" r="1.32" fill="#a0a0a0"/>
<circle cx="129.0" cy="166.8" r="1.32" fill="#a0a0a0"/>
<circle cx="131.4" cy="166.2" r="1.32" fill="#a0a0a0"/>
<circle cx="129.3" cy="166.4" r="1.32" fill="#a0a0a0"/>
<circle cx="128.3" cy="166.1" r="1.32" fill="#a0a0a0"/>
<circle cx="130.4" cy="167.7" r="1.32" fill="#a0a0a0"/>
<circle cx="131.3" cy="167.6" r="1.32" fill="#a0a0a0"/>
<circle cx="130.3" cy="167.8" r="1.32" fill="#a0a0a0"/>
<circle cx="135.4" cy="167.1" r="1.32" fill="#a0a0a0"/>
<circle cx="131.8" cy="167.6" r="1.32" fill="#a0a0a0"/>
<circle cx="127.3" cy="167.3" r="1.32" fill="#a0a0a0"/>
<circle cx="129.6" cy="167.4" r="1.32" fill="#a0a0a0"/>
<circle cx="127.3" cy="168.4" r="1.32" fill="#a0a0a0"/>
<circle cx="132.4" cy="168.4" r="1.32" fill="#a0a0a0"/>
<circle cx="134.3" cy="168.5" r="1.32" fill="#a0a0a0"/>
<circle cx="131.2" cy="168.2" r="1.32" fill="#a0a0a0"/>
<circle cx="131.1" cy="168.5" r="1.32" fill="#a0a0a0"/>
<circle cx="126.2" cy="168.2" r="1.32" fill="#a0a0a0"/>
<circle cx="131.8" cy="169.4" r="1.32" fill="#a0a0a0"/>
<circle cx="131.5" cy="169.1" r="1.32" fill="#a0a0a0"/>
<circle cx="127.8" cy="169.0" r="1.32" fill="#a0a0a0"/>
<circle cx="131.8" cy="169.6" r="1.32" fill="#a0a0a0"/>
<circle cx="134.4" cy="169.8" r="1.32" fill="#a0a0a0"/>
<circle cx="132.8" cy="169.5" r="1.32" fill="#a0a0a0"/>
<circle cx="128.2" cy="171.0" r="1.32" fill="#a0a0a0"/>
<circle cx="130.6" cy="170.1" r="1.32" fill="#a0a0a0"/>
<circle cx="136.0" cy="170.7" r="1.32" fill="#a0a0a0"/>
<circle cx="124.3" cy="170.8" r="1.32" fill="#a0a0a0"/>
<circle cx="133.2" cy="170.5" r="1.32" fill="#a0a0a0"/>
<circle cx="137.1" cy="171.0" r="1.32" fill="#a0a0a0"/>
<circle cx="133.0" cy="171.9" r="1.32" fill="#a0a0a0"/>
<circle cx="134.6" cy="171.1" r="1.32" fill="#a0a0a0"/>
<circle cx="128.2" cy="171.2" r="1.32" fill="#a0a0a0"/>
<circle cx="134.2" cy="171.9" r="1.32" fill="#a0a0a0"/>
<circle cx="130.0" cy="171.1" r="1.32" fill="#a0a0a0"/>
<circle cx="135.3" cy="172.9" r="1.32" fill="#a0a0a0"/>
<circle cx="131.2" cy="172.5" r="1.32" fill="#a0a0a0"/>
<circle cx="132.6" cy="172.3" r="1.32" fill="#a0a0a0"/>
<circle cx="132.3" cy="172.2" r="1.32" fill="#a0a0a0"/>
<circle cx="131.1" cy="172.9" r="1.32" fill="#a0a0a0"/>
<circle cx="131.9" cy="173.8" r="1.32" fill="#a0a0a0"/>
<circle cx="129.8" cy="173.1" r="1.32" fill="#a0a0a0"/>
<circle cx="127.2" cy="173.4" r="1.32" fill="#a0a0a0"/>
<circle cx="130.0" cy="173.9" r="1.32" fill="#a0a0a0"/>
<circle cx="127.6" cy="173.9" r="1.32" fill="#a0a0a0"/>
<circle cx="129.6" cy="175.0" r="1.32" fill="#a0a0a0"/>
<circle cx="129.0" cy="174.8" r="1.32" fill="#a0a0a0"/>
<circle cx="128.9" cy="174.3" r="1.32" fill="#a0a0a0"/>
<circle cx="134.0" cy="174.4" r="1.32" fill="#a0a0a0"/>
<circle cx="130.5" cy="174.8" r="1.32" fill="#a0a0a0"/>
<circle cx="132.5" cy="175.0" r="1.32" fill="#a0a0a0"/>
<circle cx="134.4" cy="175.8" r="1.32" fill="#a0a0a0"/>
<circle cx="130.6" cy="176.0" r="1.32" fill="#a0a0a0"/>
<circle cx="134.2" cy="175.6" r="1.32" fill="#a0a0a0"/>
<circle cx="130.6" cy="176.0" r="1.32" fill="#a0a0a0"/>
<circle cx="130.8" cy="176.1" r="1.32" fill="#a0a0a0"/>
<circle cx="128.7" cy="176.5" r="1.32" fill="#a0a0a0"/>
<circle cx="129.0" cy="176.9" r="1.32" fill="#a0a0a0"/>
<circle cx="131.2" cy="177.0" r="1.32" fill="#a0a0a0"/>
<circle cx="134.2" cy="177.0" r="1.32" fill="#a0a0a0"/>
<circle cx="130.0" cy="177.4" r="1.32" fill="#a0a0a0"/>
<circle cx="131.6" cy="177.2" r="1.32" fill="#a0a0a0"/>
<circle cx="129.3" cy="178.6" r="1.32" fill="#a0a0a0"/>
<circle cx="129.8" cy="178.5" r="1.32" fill="#a0a0a0"/>
<circle cx="134.5" cy="178.2" r="1.32" fill="#a0a0a0"/>
<circle cx="135.0" cy="178.1" r="1.32" fill="#a0a0a0"/>
<circle cx="127.5" cy="179.8" r="1.32" fill="#a0a0a0"/>
<circle cx="127.0" cy="179.4" r="1.32" fill="#a0a0a0"/>
<circle cx="130.7" cy="179.6" r="1.32" fill="#a0a0a0"/>
<circle cx="131.1" cy="179.6" r="1.32" fill="#a0a0a0"/>
<circle cx="129.1" cy="180.9" r="1.32" fill="#a0a0a0"/>
<circle cx="128.6" cy="180.7" r="1.32" fill="#a0a0a0"/>
<circle cx="130.7" cy="180.0" r="1.32" fill="#a0a0a0"/>
<circle cx="135.9" cy="181.4" r="1.32" fill="#a0a0a0"/>
<circle cx="130.8" cy="181.8" r="1.32" fill="#a0a0a0"/>
<circle cx="131.5" cy="181.0" r="1.32" fill="#a0a0a0"/>
<circle cx="131.9" cy="182.2" r="1.32" fill="#a0a0a0"/>
<circle cx="130.2" cy="182.6" r="1.32" fill="#a0a0a0"/>
<circle cx="127.3" cy="182.8" r="1.32" fill="#a0a0a0"/>
<circle cx="130.6" cy="183.3" r="1.32" fill="#a0a0a0"/>
<circle cx="130.5" cy="183.9" r="1.32" fill="#a0a0a0"/>
<circle cx="131.4" cy="183.8" r="1.32" fill="#a0a0a0"/>
<circle cx="135.2" cy="184.7" r="1.32" fill="#a0a0a0"/>
<circle cx="130.9" cy="184.5" r="1.32" fill="#a0a0a0"/>
<circle cx="130.6" cy="184.2" r="1.32" fill="#a0a0a0"/>
<circle cx="128.1" cy="185.2" r="1.32" fill="#a0a0a0"/>
<circle cx="132.8" cy="185.7" r="1.32" fill="#a0a0a0"/>
<circle cx="131.2" cy="185.7" r="1.32" fill="#a0a0a0"/>
<circle cx="130.3" cy="186.6" r="1.32" fill="#a0a0a0"/>
<circle cx="128.9" cy="186.4" r="1.32" fill="#a0a0a0"/>
<circle cx="128.9" cy="187.6" r="1.32" fill="#a0a0a0"/>
<circle cx="130.4" cy="188.0" r="1.32" fill="#a0a0a0"/>
<circle cx="131.0" cy="188.3" r="1.32" fill="#a0a0a0"/>
<circle cx="130.4" cy="188.2" r="1.32" fill="#a0a0a0"/>
<circle cx="130.5" cy="188.7" r="1.32" fill="#a0a0a0"/>
<circle cx="125.1" cy="189.9" r="1.32" fill="#a0a0a0"/>
<circle cx="129.9" cy="189.9" r="1.32" fill="#a0a0a0"/>
<circle cx="132.2" cy="190.7" r="1.32" fill="#a0a0a0"/>
<circle cx="127.5" cy="190.5" r="1.32" fill="#a0a0a0"/>
<circle cx="125.4" cy="191.7" r="1.32" fill="#a0a0a0"/>
<circle cx="132.2" cy="191.7" r="1.32" fill="#a0a0a0"/>
<circle cx="128.9" cy="192.3" r="1.32" fill="#a0a0a0"/>
<circle cx="131.4" cy="192.1" r="1.32" fill="#a0a0a0"/>
<circle cx="133.5" cy="193.1" r="1.32" fill="#a0a0a0"/>
<circle cx="134.3" cy="194.3" r="1.32" fill="#a0a0a0"/>
<circle cx="133.6" cy="194.1" r="1.32" fill="#a0a0a0"/>
<circle cx="133.6" cy="195.6" r="1.32" fill="#a0a0a0"/>
<circle cx="131.5" cy="195.7" r="1.32" fill="#a0a0a0"/>
<circle cx="133.0" cy="196.4" r="1.32" fill="#a0a0a0"/>
<circle cx="131.7" cy="197.8" r="1.32" fill="#a0a0a0"/>
<circle cx="133.9" cy="198.9" r="1.32" fill="#a0a0a0"/>
<circle cx="132.1" cy="199.1" r="1.32" fill="#a0a0a0"/>
<circle cx="131.0" cy="200.8" r="1.32" fill="#a0a0a0"/>
<circle cx="131.0" cy="201.6" r="1.32" fill="#a0a0a0"/>
<circle cx="130.6" cy="203.1" r="1.32" fill="#a0a0a0"/>
<circle cx="42.7" cy="164.8" r="1.32" fill="#a0a0a0"/>
<circle cx="42.7" cy="164.5" r="1.32" fill="#a0a0a0"/>
<circle cx="42.9" cy="166.1" r="1.32" fill="#a0a0a0"/>
<circle cx="42.9" cy="165.8" r="1.32" fill="#a0a0a0"/>
<circle cx="43.2" cy="167.3" r="1.32" fill="#a0a0a0"/>
<circle cx="43.3" cy="166.5" r="1.32" fill="#a0a0a0"/>
<circle cx="43.5" cy="168.2" r="1.32" fill="#a0a0a0"/>
<circle cx="43.4" cy="168.1" r="1.32" fill="#a0a0a0"/>
<circle cx="43.6" cy="167.7" r="1.32" fill="#a0a0a0"/>
<circle cx="43.3" cy="169.2" r="1.32" fill="#a0a0a0"/>
<circle cx="43.4" cy="168.5" r="1.32" fill="#a0a0a0"/>
<circle cx="44.4" cy="170.4" r="1.32" fill="#a0a0a0"/>
<circle cx="43.4" cy="169.9" r="1.32" fill="#a0a0a0"/>
<circle cx="44.1" cy="170.2" r="1.32" fill="#a0a0a0"/>
<circle cx="44.3" cy="170.8" r="1.32" fill="#a0a0a0"/>
<circle cx="44.9" cy="170.7" r="1.32" fill="#a0a0a0"/>
<circle cx="45.1" cy="170.8" r="1.32" fill="#a0a0a0"/>
<circle cx="45.0" cy="171.9" r="1.32" fill="#a0a0a0"/>
<circle cx="43.9" cy="172.1" r="1.32" fill="#a0a0a0"/>
<circle cx="43.8" cy="172.2" r="1.32" fill="#a0a0a0"/>
<circle cx="45.5" cy="173.1" r="1.32" fill="#a0a0a0"/>
<circle cx="44.6" cy="172.9" r="1.32" fill="#a0a0a0"/>
<circle cx="44.7" cy="173.3" r="1.32" fill="#a0a0a0"/>
<circle cx="46.2" cy="173.5" r="1.32" fill="#a0a0a0"/>
<circle cx="44.6" cy="173.7" r="1.32" fill="#a0a0a0"/>
<circle cx="46.2" cy="174.0" r="1.32" fill="#a0a0a0"/>
<circle cx="45.0" cy="174.3" r="1.32" fill="#a0a0a0"/>
<circle cx="45.5" cy="175.0" r="1.32" fill="#a0a0a0"/>
<circle cx="46.2" cy="175.2" r="1.32" fill="#a0a0a0"/>
<circle cx="46.0" cy="174.8" r="1.32" fill="#a0a0a0"/>
<circle cx="45.2" cy="174.6" r="1.32" fill="#a0a0a0"/>
<circle cx="46.4" cy="176.2" r="1.32" fill="#a0a0a0"/>
<circle cx="45.2" cy="175.9" r="1.32" fill="#a0a0a0"/>
<circle cx="46.7" cy="176.0" r="1.32" fill="#a0a0a0"/>
<circle cx="46.2" cy="177.3" r="1.32" fill="#a0a0a0"/>
<circle cx="45.6" cy="176.7" r="1.32" fill="#a0a0a0"/>
<circle cx="45.8" cy="177.1" r="1.32" fill="#a0a0a0"/>
<circle cx="47.2" cy="176.6" r="1.32" fill="#a0a0a0"/>
<circle cx="46.0" cy="177.8" r="1.32" fill="#a0a0a0"/>
<circle cx="46.7" cy="177.6" r="1.32" fill="#a0a0a0"/>
<circle cx="46.2" cy="177.7" r="1.32" fill="#a0a0a0"/>
<circle cx="48.0" cy="178.2" r="1.32" fill="#a0a0a0"/>
<circle cx="48.4" cy="178.6" r="1.32" fill="#a0a0a0"/>
<circle cx="46.7" cy="179.4" r="1.32" fill="#a0a0a0"/>
<circle cx="47.9" cy="179.2" r="1.32" fill="#a0a0a0"/>
<circle cx="46.8" cy="178.7" r="1.32" fill="#a0a0a0"/>
<circle cx="46.2" cy="179.7" r="1.32" fill="#a0a0a0"/>
<circle cx="47.0" cy="179.5" r="1.32" fill="#a0a0a0"/>
<circle cx="47.1" cy="180.2" r="1.32" fill="#a0a0a0"/>
<circle cx="48.0" cy="180.0" r="1.32" fill="#a0a0a0"/>
<circle cx="47.6" cy="180.6" r="1.32" fill="#a0a0a0"/>
<circle cx="48.1" cy="180.9" r="1.32" fill="#a0a0a0"/>
<circle cx="48.5" cy="181.3" r="1.32" fill="#a0a0a0"/>
<circle cx="47.5" cy="181.0" r="1.32" fill="#a0a0a0"/>
<circle cx="47.9" cy="181.7" r="1.32" fill="#a0a0a0"/>
<circle cx="48.8" cy="182.3" r="1.32" fill="#a0a0a0"/>
<circle cx="49.0" cy="182.1" r="1.32" fill="#a0a0a0"/>
<circle cx="49.2" cy="182.1" r="1.32" fill="#a0a0a0"/>
<circle cx="48.3" cy="182.8" r="1.32" fill="#a0a0a0"/>
<circle cx="48.9" cy="182.6" r="1.32" fill="#a0a0a0"/>
<circle cx="48.2" cy="183.2" r="1.32" fill="#a0a0a0"/>
<circle cx="49.1" cy="183.1" r="1.32" fill="#a0a0a0"/>
<circle cx="48.6" cy="183.9" r="1.32" fill="#a0a0a0"/>
<circle cx="49.2" cy="183.9" r="1.32" fill="#a0a0a0"/>
<circle cx="49.4" cy="184.3" r="1.32" fill="#a0a0a0"/>
<circle cx="47.9" cy="184.1" r="1.32" fill="#a0a0a0"/>
<circle cx="48.9" cy="184.9" r="1.32" fill="#a0a0a0"/>
<circle cx="50.7" cy="184.5" r="1.32" fill="#a0a0a0"/>
<circle cx="49.3" cy="184.6" r="1.32" fill="#a0a0a0"/>
<circle cx="50.1" cy="185.3" r="1.32" fill="#a0a0a0"/>
<circle cx="48.3" cy="186.0" r="1.32" fill="#a0a0a0"/>
<circle cx="49.7" cy="186.1" r="1.32" fill="#a0a0a0"/>
<circle cx="49.6" cy="186.1" r="1.32" fill="#a0a0a0"/>
<circle cx="50.6" cy="186.0" r="1.32" fill="#a0a0a0"/>
<circle cx="51.4" cy="186.7" r="1.32" fill="#a0a0a0"/>
<circle cx="50.5" cy="186.9" r="1.32" fill="#a0a0a0"/>
<circle cx="50.8" cy="186.6" r="1.32" fill="#a0a0a0"/>
<circle cx="51.5" cy="186.8" r="1.32" fill="#a0a0a0"/>
<circle cx="49.5" cy="187.9" r="1.32" fill="#a0a0a0"/>
<circle cx="48.6" cy="187.9" r="1.32" fill="#a0a0a0"/>
<circle cx="49.9" cy="188.1" r="1.32" fill="#a0a0a0"/>
<circle cx="49.7" cy="187.7" r="1.32" fill="#a0a0a0"/>
<circle cx="51.1" cy="189.3" r="1.32" fill="#a0a0a0"/>
<circle cx="50.5" cy="188.7" r="1.32" fill="#a0a0a0"/>
<circle cx="51.3" cy="188.9" r="1.32" fill="#a0a0a0"/>
<circle cx="49.5" cy="188.6" r="1.32" fill="#a0a0a0"/>
<circle cx="51.6" cy="190.1" r="1.32" fill="#a0a0a0"/>
<circle cx="50.5" cy="190.0" r="1.32" fill="#a0a0a0"/>
<circle cx="49.8" cy="190.4" r="1.32" fill="#a0a0a0"/>
<circle cx="50.2" cy="190.1" r="1.32" fill="#a0a0a0"/>
<circle cx="51.8" cy="190.9" r="1.32" fill="#a0a0a0"/>
<circle cx="50.3" cy="191.0" r="1.32" fill="#a0a0a0"/>
<circle cx="49.8" cy="191.3" r="1.32" fill="#a0a0a0"/>
<circle cx="52.1" cy="191.7" r="1.32" fill="#a0a0a0"/>
<circle cx="50.7" cy="191.7" r="1.32" fill="#a0a0a0"/>
<circle cx="50.9" cy="191.7" r="1.32" fill="#a0a0a0"/>
<circle cx="49.7" cy="192.1" r="1.32" fill="#a0a0a0"/>
<circle cx="50.6" cy="192.8" r="1.32" fill="#a0a0a0"/>
<circle cx="51.3" cy="192.9" r="1.32" fill="#a0a0a0"/>
<circle cx="51.7" cy="193.1" r="1.32" fill="#a0a0a0"/>
<circle cx="50.9" cy="193.3" r="1.32" fill="#a0a0a0"/>
<circle cx="50.3" cy="194.2" r="1.32" fill="#a0a0a0"/>
<circle cx="52.7" cy="194.2" r="1.32" fill="#a0a0a0"/>
<circle cx="50.6" cy="194.2" r="1.32" fill="#a0a0a0"/>
<circle cx="50.5" cy="194.5" r="1.32" fill="#a0a0a0"/>
<circle cx="53.1" cy="195.1" r="1.32" fill="#a0a0a0"/>
<circle cx="51.1" cy="194.6" r="1.32" fill="#a0a0a0"/>
<circle cx="50.8" cy="194.7" r="1.32" fill="#a0a0a0"/>
<circle cx="51.6" cy="195.6" r="1.32" fill="#a0a0a0"/>
<circle cx="53.2" cy="196.2" r="1.32" fill="#a0a0a0"/>
<circle cx="51.2" cy="196.3" r="1.32" fill="#a0a0a0"/>
<circle cx="53.0" cy="197.1" r="1.32" fill="#a0a0a0"/>
<circle cx="53.3" cy="197.2" r="1.32" fill="#a0a0a0"/>
<circle cx="53.2" cy="196.7" r="1.32" fill="#a0a0a0"/>
<circle cx="52.6" cy="198.2" r="1.32" fill="#a0a0a0"/>
<circle cx="52.4" cy="198.3" r="1.32" fill="#a0a0a0"/>
<circle cx="52.7" cy="197.7" r="1.32" fill="#a0a0a0"/>
<circle cx="51.8" cy="198.9" r="1.32" fill="#a0a0a0"/>
<circle cx="51.6" cy="198.9" r="1.32" fill="#a0a0a0"/>
<circle cx="51.9" cy="198.9" r="1.32" fill="#a0a0a0"/>
<circle cx="52.8" cy="199.0" r="1.32" fill="#a0a0a0"/>
<circle cx="51.8" cy="200.3" r="1.32" fill="#a0a0a0"/>
<circle cx="52.9" cy="200.0" r="1.32" fill="#a0a0a0"/>
<circle cx="53.4" cy="200.3" r="1.32" fill="#a0a0a0"/>
<circle cx="53.0" cy="201.4" r="1.32" fill="#a0a0a0"/>
<circle cx="52.2" cy="201.1" r="1.32" fill="#a0a0a0"/>
<circle cx="53.5" cy="200.5" r="1.32" fill="#a0a0a0"/>
<circle cx="53.5" cy="201.1" r="1.32" fill="#a0a0a0"/>
<circle cx="53.1" cy="202.4" r="1.32" fill="#a0a0a0"/>
<circle cx="53.5" cy="201.9" r="1.32" fill="#a0a0a0"/>
<circle cx="54.3" cy="201.5" r="1.32" fill="#a0a0a0"/>
<circle cx="53.9" cy="202.8" r="1.32" fill="#a0a0a0"/>
<circle cx="54.4" cy="202.8" r="1.32" fill="#a0a0a0"/>
<circle cx="53.6" cy="203.0" r="1.32" fill="#a0a0a0"/>
<circle cx="53.4" cy="203.9" r="1.32" fill="#a0a0a0"/>
<circle cx="53.8" cy="204.0" r="1.32" fill="#a0a0a0"/>
<circle cx="54.5" cy="203.8" r="1.32" fill="#a0a0a0"/>
<circle cx="54.0" cy="205.0" r="1.32" fill="#a0a0a0"/>
<circle cx="53.8" cy="205.0" r="1.32" fill="#a0a0a0"/>
<circle cx="55.0" cy="205.1" r="1.32" fill="#a0a0a0"/>
<circle cx="54.1" cy="205.8" r="1.32" fill="#a0a0a0"/>
<circle cx="54.1" cy="206.0" r="1.32" fill="#a0a0a0"/>
<circle cx="54.6" cy="206.2" r="1.32" fill="#a0a0a0"/>
<circle cx="54.9" cy="207.3" r="1.32" fill="#a0a0a0"/>
<circle cx="54.7" cy="206.5" r="1.32" fill="#a0a0a0"/>
<circle cx="54.3" cy="206.5" r="1.32" fill="#a0a0a0"/>
<circle cx="55.3" cy="208.0" r="1.32" fill="#a0a0a0"/>
<circle cx="55.0" cy="208.2" r="1.32" fill="#a0a0a0"/>
<circle cx="55.3" cy="208.1" r="1.32" fill="#a0a0a0"/>
<circle cx="55.2" cy="209.1" r="1.32" fill="#a0a0a0"/>
<circle cx="55.2" cy="209.1" r="1.32" fill="#a0a0a0"/>
<circle cx="54.8" cy="209.1" r="1.32" fill="#a0a0a0"/>
<circle cx="55.5" cy="209.6" r="1.32" fill="#a0a0a0"/>
<circle cx="55.0" cy="209.5" r="1.32" fill="#a0a0a0"/>
<circle cx="55.5" cy="210.3" r="1.32" fill="#a0a0a0"/>
<circle cx="55.4" cy="211.2" r="1.32" fill="#a0a0a0"/>
<circle cx="55.7" cy="211.0" r="1.32" fill="#a0a0a0"/>
<circle cx="55.6" cy="211.9" r="1.32" fill="#a0a0a0"/>
<circle cx="55.6" cy="211.9" r="1.32" fill="#a0a0a0"/>
<circle cx="55.8" cy="212.3" r="1.32" fill="#a0a0a0"/>
<circle cx="56.0" cy="212.5" r="1.32" fill="#a0a0a0"/>
<circle cx="55.8" cy="213.2" r="1.32" fill="#a0a0a0"/>
<circle cx="56.0" cy="213.3" r="1.32" fill="#a0a0a0"/>
<circle cx="237.0" cy="114.5" r="1.4" fill="#ff7410"/>
<circle cx="220.4" cy="166.0" r="1.4" fill="#ff7410"/>
<circle cx="205.0" cy="176.5" r="1.4" fill="#ff7410"/>
<circle cx="211.3" cy="182.0" r="1.4" fill="#ff7410"/>
<circle cx="217.7" cy="186.0" r="1.4" fill="#ff7410"/>
<circle cx="214.9" cy="188.4" r="1.4" fill="#ff7410"/>
<circle cx="214.5" cy="191.6" r="1.4" fill="#ff7410"/>
<circle cx="210.8" cy="192.4" r="1.4" fill="#ff7410"/>
<circle cx="212.3" cy="197.0" r="1.4" fill="#ff7410"/>
<circle cx="214.2" cy="197.5" r="1.4" fill="#ff7410"/>
<circle cx="210.8" cy="202.5" r="1.4" fill="#ff7410"/>
<circle cx="210.1" cy="207.6" r="1.4" fill="#ff7410"/>
<circle cx="203.2" cy="213.1" r="1.4" fill="#ff7410"/>
<circle cx="209.8" cy="212.6" r="1.4" fill="#ff7410"/>
<circle cx="207.6" cy="223.9" r="1.4" fill="#ff7410"/>
<circle cx="228.5" cy="142.5" r="1.4" fill="#0a7d14"/>
<circle cx="218.5" cy="181.1" r="1.4" fill="#0a7d14"/>
<circle cx="216.4" cy="182.4" r="1.4" fill="#0a7d14"/>
<circle cx="214.7" cy="184.8" r="1.4" fill="#0a7d14"/>
<circle cx="214.2" cy="186.0" r="1.4" fill="#0a7d14"/>
<circle cx="216.1" cy="190.2" r="1.4" fill="#0a7d14"/>
<circle cx="215.3" cy="194.1" r="1.4" fill="#0a7d14"/>
<circle cx="156.8" cy="43.8" r="1.4" fill="#ff0000"/>
</g>
<g id="axes">
<path d="M26.6 27.5V249H248.2" fill="none" stroke="#222" stroke-width="0.95"/>
<path d="M23.8 237.3H26.6" stroke="#222" stroke-width="0.85"/>
<text transform="translate(22.3 237.3) rotate(-90)" text-anchor="middle" font-size="7" fill="#222" stroke="#222" stroke-width="0.12">24</text>
<path d="M23.8 214.6H26.6" stroke="#222" stroke-width="0.85"/>
<text transform="translate(22.3 214.6) rotate(-90)" text-anchor="middle" font-size="7" fill="#222" stroke="#222" stroke-width="0.12">26</text>
<path d="M23.8 192.0H26.6" stroke="#222" stroke-width="0.85"/>
<text transform="translate(22.3 192.0) rotate(-90)" text-anchor="middle" font-size="7" fill="#222" stroke="#222" stroke-width="0.12">28</text>
<path d="M23.8 169.3H26.6" stroke="#222" stroke-width="0.85"/>
<text transform="translate(22.3 169.3) rotate(-90)" text-anchor="middle" font-size="7" fill="#222" stroke="#222" stroke-width="0.12">30</text>
<path d="M23.8 146.7H26.6" stroke="#222" stroke-width="0.85"/>
<text transform="translate(22.3 146.7) rotate(-90)" text-anchor="middle" font-size="7" fill="#222" stroke="#222" stroke-width="0.12">32</text>
<path d="M23.8 124.0H26.6" stroke="#222" stroke-width="0.85"/>
<text transform="translate(22.3 124.0) rotate(-90)" text-anchor="middle" font-size="7" fill="#222" stroke="#222" stroke-width="0.12">34</text>
<path d="M23.8 101.3H26.6" stroke="#222" stroke-width="0.85"/>
<text transform="translate(22.3 101.3) rotate(-90)" text-anchor="middle" font-size="7" fill="#222" stroke="#222" stroke-width="0.12">36</text>
<path d="M23.8 78.7H26.6" stroke="#222" stroke-width="0.85"/>
<text transform="translate(22.3 78.7) rotate(-90)" text-anchor="middle" font-size="7" fill="#222" stroke="#222" stroke-width="0.12">38</text>
<path d="M23.8 56.0H26.6" stroke="#222" stroke-width="0.85"/>
<text transform="translate(22.3 56.0) rotate(-90)" text-anchor="middle" font-size="7" fill="#222" stroke="#222" stroke-width="0.12">40</text>
<path d="M23.8 33.4H26.6" stroke="#222" stroke-width="0.85"/>
<text transform="translate(22.3 33.4) rotate(-90)" text-anchor="middle" font-size="7" fill="#222" stroke="#222" stroke-width="0.12">42</text>
<path d="M38.9 249V251.7" stroke="#222" stroke-width="0.85"/>
<text x="39.0" y="259.4" text-anchor="middle" font-size="7" fill="#222" stroke="#222" stroke-width="0.12">−30</text>
<path d="M54.2 249V251.7" stroke="#222" stroke-width="0.85"/>
<text x="54.4" y="259.4" text-anchor="middle" font-size="7" fill="#222" stroke="#222" stroke-width="0.12">−25</text>
<path d="M69.6 249V251.7" stroke="#222" stroke-width="0.85"/>
<text x="69.7" y="259.4" text-anchor="middle" font-size="7" fill="#222" stroke="#222" stroke-width="0.12">−20</text>
<path d="M85.0 249V251.7" stroke="#222" stroke-width="0.85"/>
<text x="85.0" y="259.4" text-anchor="middle" font-size="7" fill="#222" stroke="#222" stroke-width="0.12">−15</text>
<path d="M100.3 249V251.7" stroke="#222" stroke-width="0.85"/>
<text x="100.4" y="259.4" text-anchor="middle" font-size="7" fill="#222" stroke="#222" stroke-width="0.12">−10</text>
<path d="M115.7 249V251.7" stroke="#222" stroke-width="0.85"/>
<text x="115.8" y="259.4" text-anchor="middle" font-size="7" fill="#222" stroke="#222" stroke-width="0.12">−5</text>
<path d="M131.0 249V251.7" stroke="#222" stroke-width="0.85"/>
<text x="131.2" y="259.4" text-anchor="middle" font-size="7" fill="#222" stroke="#222" stroke-width="0.12">0</text>
<path d="M146.3 249V251.7" stroke="#222" stroke-width="0.85"/>
<text x="146.5" y="259.4" text-anchor="middle" font-size="7" fill="#222" stroke="#222" stroke-width="0.12">5</text>
<path d="M161.7 249V251.7" stroke="#222" stroke-width="0.85"/>
<text x="161.9" y="259.4" text-anchor="middle" font-size="7" fill="#222" stroke="#222" stroke-width="0.12">10</text>
<path d="M177.1 249V251.7" stroke="#222" stroke-width="0.85"/>
<text x="177.2" y="259.4" text-anchor="middle" font-size="7" fill="#222" stroke="#222" stroke-width="0.12">15</text>
<path d="M192.4 249V251.7" stroke="#222" stroke-width="0.85"/>
<text x="192.6" y="259.4" text-anchor="middle" font-size="7" fill="#222" stroke="#222" stroke-width="0.12">20</text>
<path d="M207.8 249V251.7" stroke="#222" stroke-width="0.85"/>
<text x="207.9" y="259.4" text-anchor="middle" font-size="7" fill="#222" stroke="#222" stroke-width="0.12">25</text>
<path d="M223.1 249V251.7" stroke="#222" stroke-width="0.85"/>
<text x="223.3" y="259.4" text-anchor="middle" font-size="7" fill="#222" stroke="#222" stroke-width="0.12">30</text>
<path d="M238.4 249V251.7" stroke="#222" stroke-width="0.85"/>
<text x="238.6" y="259.4" text-anchor="middle" font-size="7" fill="#222" stroke="#222" stroke-width="0.12">35</text>
</g>
<g id="labels">
<text x="110.2" y="65.5" font-size="5.9" textLength="11.4" lengthAdjust="spacingAndGlyphs" fill="#a6a6a6" stroke="#a6a6a6" stroke-width="0.1">Raf1</text>
<text x="159.8" y="45.9" font-size="5.9" textLength="12.2" lengthAdjust="spacingAndGlyphs" fill="#ff2020" stroke="#ff2020" stroke-width="0.12">Ubl3</text>
<text x="231.5" y="144.6" font-size="5.9" textLength="16.7" lengthAdjust="spacingAndGlyphs" fill="#0a7d14" stroke="#0a7d14" stroke-width="0.12">Pde6d</text>
<text x="220" y="179" font-size="5.9" textLength="16.0" lengthAdjust="spacingAndGlyphs" fill="#0a7d14" stroke="#0a7d14" stroke-width="0.12">Mtch2</text>
<text x="220" y="186.4" font-size="5.9" textLength="18.3" lengthAdjust="spacingAndGlyphs" fill="#0a7d14" stroke="#0a7d14" stroke-width="0.12">Notch2</text>
<text x="195.3" y="188.6" font-size="5.9" textLength="16.0" lengthAdjust="spacingAndGlyphs" fill="#0a7d14" stroke="#0a7d14" stroke-width="0.12">Vdac2</text>
<text x="218.3" y="191.6" font-size="5.9" textLength="11.2" lengthAdjust="spacingAndGlyphs" fill="#0a7d14" stroke="#0a7d14" stroke-width="0.12">Ddr1</text>
<text x="218.3" y="197.1" font-size="5.9" textLength="16.2" lengthAdjust="spacingAndGlyphs" fill="#0a7d14" stroke="#0a7d14" stroke-width="0.12">Sdcbp</text>
<rect x="224.7" y="27.2" width="25.9" height="15.2" fill="#fff" stroke="#666" stroke-width="0.7"/>
<circle cx="228.8" cy="31.2" r="1.7" fill="#0a7d14"/><circle cx="228.8" cy="38.6" r="1.7" fill="#ff7410"/>
<text x="234.4" y="33.3" font-size="5.8" textLength="13.1" lengthAdjust="spacingAndGlyphs" fill="#0a7d14" stroke="#0a7d14" stroke-width="0.12">Tier I</text>
<text x="234.4" y="40.7" font-size="5.8" textLength="14.5" lengthAdjust="spacingAndGlyphs" fill="#ff7410" stroke="#ff7410" stroke-width="0.12">Tier II</text>
<text x="117" y="270.6" font-size="9" textLength="62.5" lengthAdjust="spacingAndGlyphs" fill="#222" stroke="#222" stroke-width="0.15">UBL3 WT / RAF1</text>
<text transform="translate(9.1 142.5) rotate(-90)" font-size="8.6" textLength="28.2" lengthAdjust="spacingAndGlyphs" fill="#222" stroke="#222" stroke-width="0.15">Intensity</text>
<text transform="translate(2.7 17) scale(0.9 1)" font-size="16" fill="#000" stroke="#000" stroke-width="0.7">A</text>
<text transform="translate(284.3 16.5) scale(0.84 1)" font-size="15.5" fill="#000" stroke="#000" stroke-width="0.7">B</text>
</g>
<g id="table" fill="#1a1a1a" stroke="#1a1a1a" stroke-width="0.22">
<rect x="298.2" y="33" width="247.7" height="35.7" fill="#c8c8c8" stroke="none"/>
<rect x="298.2" y="106.3" width="247.7" height="27.5" fill="#c8c8c8" stroke="none"/>
<rect x="298.2" y="162.4" width="247.7" height="27.6" fill="#c8c8c8" stroke="none"/>
<rect x="298.2" y="31.8" width="247.7" height="1.7" fill="#5a5a5a" stroke="none"/>
<rect x="298.2" y="189.3" width="247.7" height="1.4" fill="#5a5a5a" stroke="none"/>
<text x="306.3" y="26.8" font-size="7.6" textLength="30.9" lengthAdjust="spacingAndGlyphs" font-style="italic" font-weight="bold" stroke="none">Category</text>
<text x="371.5" y="26.7" font-size="7.6" textLength="41.5" lengthAdjust="spacingAndGlyphs" font-style="italic" font-weight="bold" stroke="none">Gene names</text>
<text x="501.4" y="26.6" font-size="7.6" textLength="24.0" lengthAdjust="spacingAndGlyphs" font-style="italic" font-weight="bold" stroke="none">P value</text>
<text x="306.3" y="53.5" font-size="7.6" textLength="24.3" lengthAdjust="spacingAndGlyphs">Cytosol</text>
<text x="306.3" y="84.9" font-size="7.6" textLength="41.1" lengthAdjust="spacingAndGlyphs">Extracellular</text>
<text x="306.3" y="94.5" font-size="7.6" textLength="30.2" lengthAdjust="spacingAndGlyphs">exosome</text>
<text x="306.3" y="122.8" font-size="7.6" textLength="25.1" lengthAdjust="spacingAndGlyphs">Disease</text>
<text x="306.3" y="145.7" font-size="7.6" textLength="39.6" lengthAdjust="spacingAndGlyphs">Metabolism</text>
<text x="306.3" y="155.5" font-size="7.6" textLength="36.4" lengthAdjust="spacingAndGlyphs">of proteins</text>
<text x="306.3" y="179.4" font-size="7.6" textLength="49.5" lengthAdjust="spacingAndGlyphs">Syscilia - siRNA</text>
<text x="371.5" y="43.5" font-size="7.6" textLength="89.0" lengthAdjust="spacingAndGlyphs">CLTA DCTN4 EIF2S2 OGDH</text>
<text x="371.5" y="53.3" font-size="7.6" textLength="112.3" lengthAdjust="spacingAndGlyphs">PDCD6IP PDE6D RANBP2 RPL36A</text>
<text x="371.5" y="63.2" font-size="7.6" textLength="95.0" lengthAdjust="spacingAndGlyphs">S100A6 SDCBP ST13 TGFBR2</text>
<text x="371.5" y="80.3" font-size="7.6" textLength="94.5" lengthAdjust="spacingAndGlyphs">DDR1 GRN MTCH2 PDCD6IP</text>
<text x="371.5" y="90.0" font-size="7.6" textLength="99.3" lengthAdjust="spacingAndGlyphs">S100A6 SDCBP SLC12A2 ST13</text>
<text x="371.5" y="99.9" font-size="7.6" textLength="78.0" lengthAdjust="spacingAndGlyphs">TOM1L2 VDAC2 VDAC3</text>
<text x="371.5" y="117.5" font-size="7.6" textLength="108.7" lengthAdjust="spacingAndGlyphs">CLTA NOTCH2 PDCD6IP RANBP2</text>
<text x="371.5" y="127.2" font-size="7.6" textLength="53.1" lengthAdjust="spacingAndGlyphs">RPL36A TGFBR2</text>
<text x="371.5" y="145.6" font-size="7.6" textLength="105.1" lengthAdjust="spacingAndGlyphs">DCTN4 EIF2S2 RANBP2 RPL36A</text>
<text x="371.5" y="155.4" font-size="7.6" textLength="76.1" lengthAdjust="spacingAndGlyphs">TGFBR2 VDAC2 VDAC3</text>
<text x="371.5" y="173.7" font-size="7.6" textLength="94.9" lengthAdjust="spacingAndGlyphs">DCTN4 EIF2S2 GRN NOTCH2</text>
<text x="371.5" y="183.5" font-size="7.6" textLength="109.9" lengthAdjust="spacingAndGlyphs">RANBP2 RPL36A S100A6 TGFBR2</text>
<text x="501.3" y="55" font-size="7.6" textLength="30.4" lengthAdjust="spacingAndGlyphs">3.970x10</text>
<text x="532.3" y="52.2" font-size="3.9" textLength="6.5" lengthAdjust="spacingAndGlyphs" stroke-width="0.06" fill="#222">-06</text>
<text x="501.3" y="90.5" font-size="7.6" textLength="30.4" lengthAdjust="spacingAndGlyphs">2.200x10</text>
<text x="532.3" y="87.7" font-size="3.9" textLength="6.5" lengthAdjust="spacingAndGlyphs" stroke-width="0.06" fill="#222">-05</text>
<text x="501.3" y="126" font-size="7.6" textLength="30.4" lengthAdjust="spacingAndGlyphs">1.340x10</text>
<text x="532.3" y="123.2" font-size="3.9" textLength="6.5" lengthAdjust="spacingAndGlyphs" stroke-width="0.06" fill="#222">-04</text>
<text x="501.3" y="153" font-size="7.6" textLength="30.4" lengthAdjust="spacingAndGlyphs">5.860x10</text>
<text x="532.3" y="150.2" font-size="3.9" textLength="6.5" lengthAdjust="spacingAndGlyphs" stroke-width="0.06" fill="#222">-04</text>
<text x="501.3" y="181.4" font-size="7.6" textLength="30.4" lengthAdjust="spacingAndGlyphs">2.720x10</text>
<text x="532.3" y="178.6" font-size="3.9" textLength="6.5" lengthAdjust="spacingAndGlyphs" stroke-width="0.06" fill="#222">-04</text>
</g>
</g>
</svg>
</body></html>
